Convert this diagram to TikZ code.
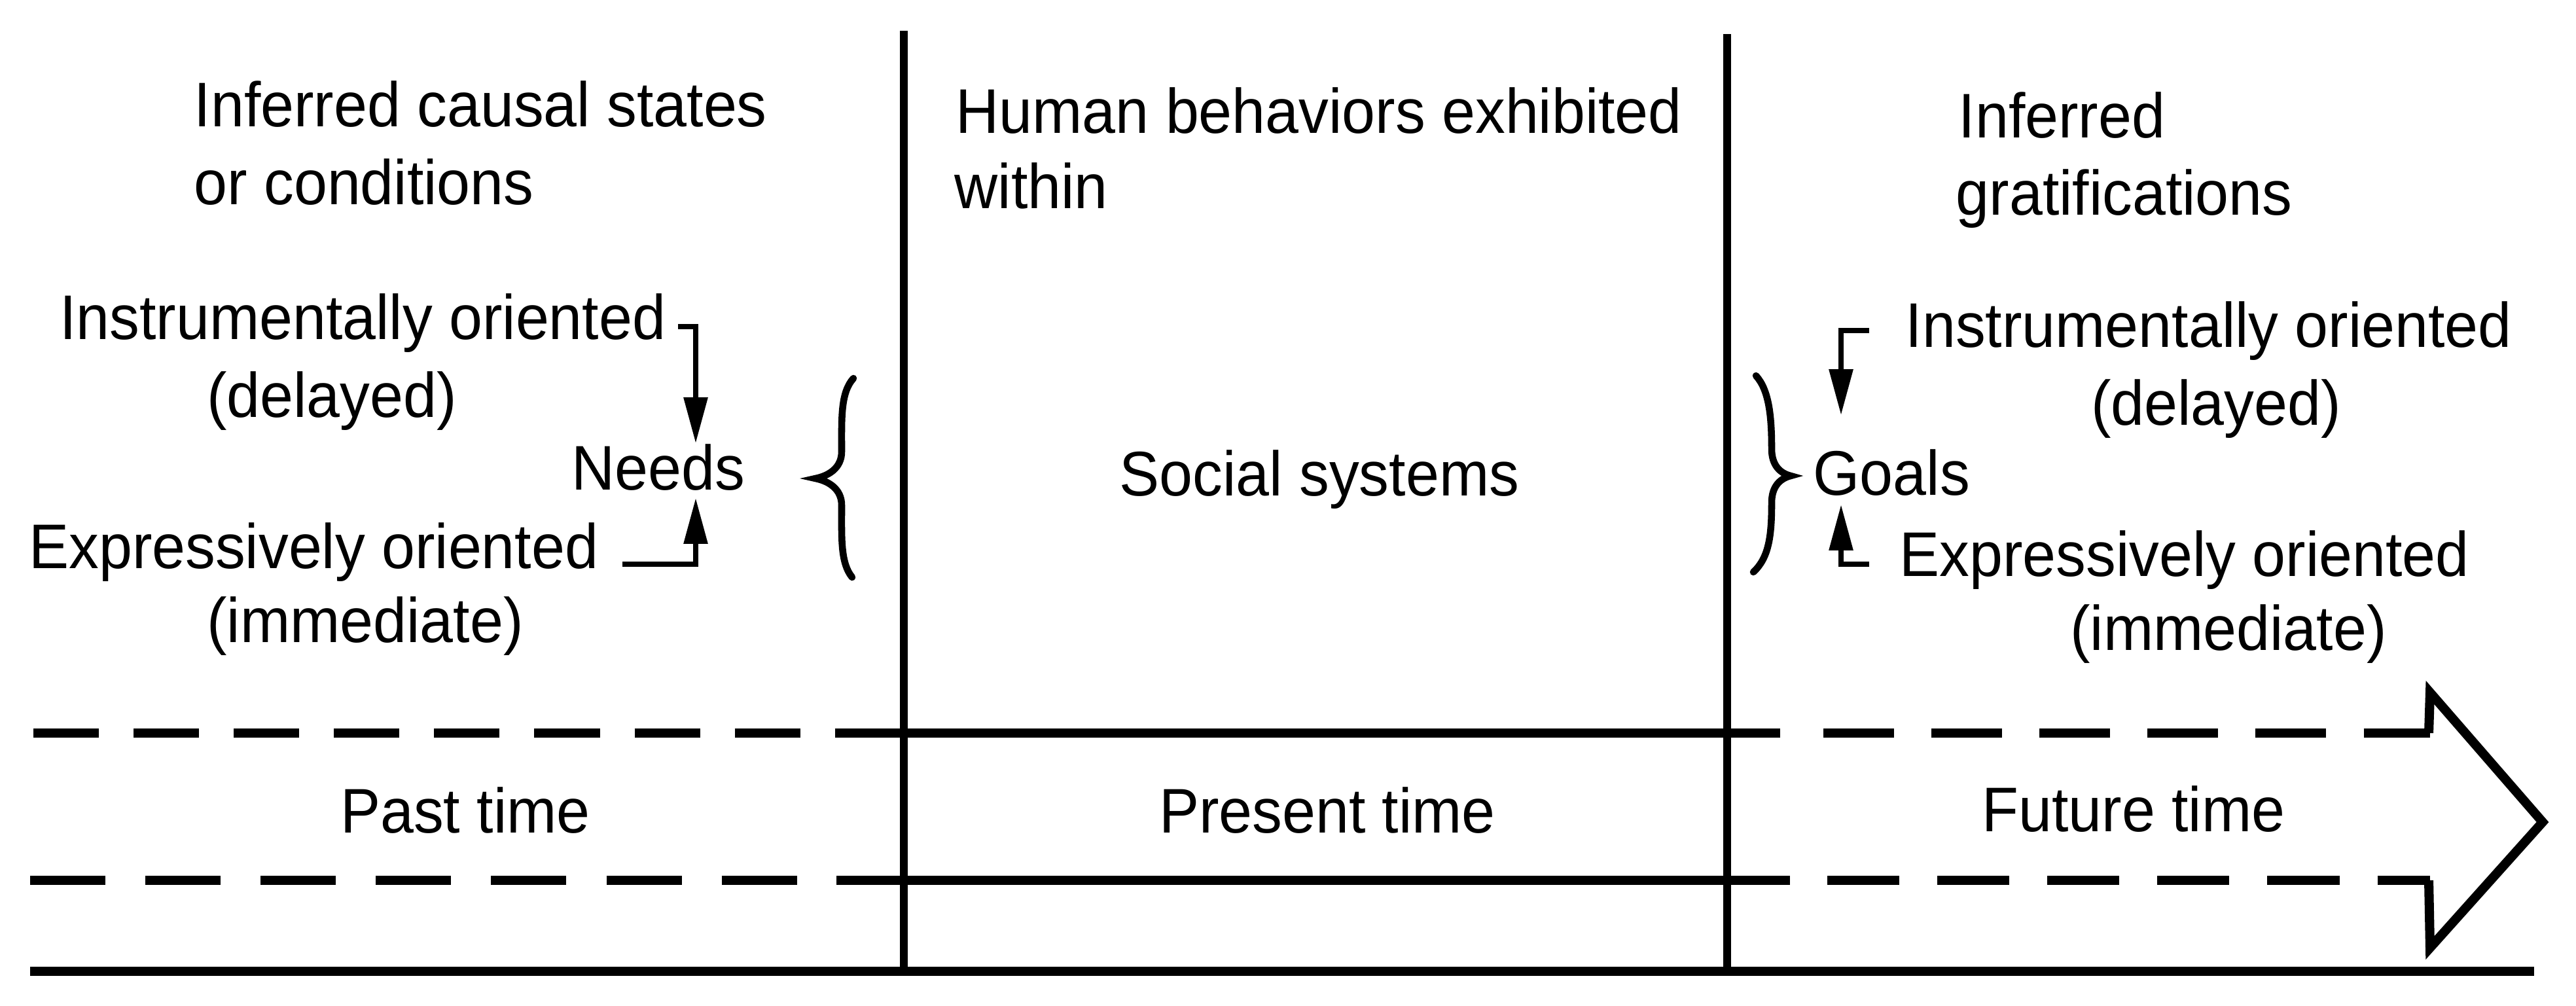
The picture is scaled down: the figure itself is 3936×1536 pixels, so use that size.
\documentclass[tikz,border=0pt]{standalone}
\usepackage{fontspec}
\setmainfont{Liberation Sans}[FakeStretch=0.95]
\usetikzlibrary{arrows.meta,calc}
\begin{document}
\begin{tikzpicture}[x=0.01cm,y=-0.01cm,
  lbl/.style={inner sep=0pt, font=\fontsize{27.4}{33}\selectfont},
  vline/.style={line width=3.2pt},
  hline/.style={line width=4pt},
  conn/.style={line width=2.4pt, -{Triangle[length=20pt,width=10pt]}},
  bracestyle/.style={line width=3pt, line cap=round}
]
\useasboundingbox (0,0) rectangle (3936,1536);

% column headings
\node[lbl, anchor=base west] (t1a) at (296,193) {Inferred causal states};
\node[lbl, anchor=base west] (t1b) at (296,312) {or conditions};
\node[lbl, anchor=base west] (t2a) at (1460,203) {Human behaviors exhibited};
\node[lbl, anchor=base west] (t2b) at (1458,318) {within};
\node[lbl, anchor=base west] (t3a) at (2992,210) {Inferred};
\node[lbl, anchor=base west] (t3b) at (2988,328) {gratifications};

% left column
\node[lbl, anchor=base east] (iol) at (1018,518) {Instrumentally oriented};
\node[lbl, anchor=base] (dell) at (507,637) {(delayed)};
\node[lbl, anchor=base] (needs) at (1006,748) {Needs};
\node[lbl, anchor=base east] (eol) at (915,868) {Expressively oriented};
\node[lbl, anchor=base] (imml) at (558,981) {(immediate)};

% middle
\node[lbl, anchor=base] (soc) at (2016,757) {Social systems};

% right column
\node[lbl, anchor=base west] (goals) at (2770,756) {Goals};
\node[lbl, anchor=base west] (ior) at (2911,530) {Instrumentally oriented};
\node[lbl, anchor=base] (delr) at (3386,649) {(delayed)};
\node[lbl, anchor=base west] (eor) at (2902,880) {Expressively oriented};
\node[lbl, anchor=base] (immr) at (3405,993) {(immediate)};

% time labels
\node[lbl, anchor=base] (past) at (711,1272) {Past time};
\node[lbl, anchor=base] (pres) at (2028,1272) {Present time};
\node[lbl, anchor=base] (fut) at (3260,1270) {Future time};

% connectors
\coordinate (lcol) at (1063,0);
\coordinate (rcol) at (2813,0);
\draw[conn] ($(iol.base east)+(18,-19)$) -| (needs.north -| lcol);
\draw[conn] ($(eol.base east)+(36,-6)$) -| ($(needs.south -| lcol)+(0,11)$);
\draw[conn] ($(ior.base west)+(-55,-25)$) -| ($(goals.north -| rcol)+(0,-51)$);
\draw[conn] ($(eor.base west)+(-46,-18)$) -| ($(goals.south -| rcol)+(0,13)$);

% braces
\draw[bracestyle] (1304,578) .. controls (1284,600) and (1286,640) .. (1286,690)
  .. controls (1286,715) and (1266,727) .. (1246,731)
  .. controls (1266,735) and (1286,747) .. (1286,772)
  .. controls (1286,822) and (1284,860) .. (1302,882);
\draw[bracestyle] (2683,574) .. controls (2703,596) and (2707,636) .. (2707,686)
  .. controls (2707,711) and (2720,723) .. (2736,727)
  .. controls (2720,731) and (2707,743) .. (2707,768)
  .. controls (2707,818) and (2703,852) .. (2679,874);

% vertical dividers
\draw[vline] (1381,47) -- (1381,1484);
\draw[vline] (2639,52) -- (2639,1484);

% time band
\draw[hline, dash pattern=on 1cm off 0.53cm] (51,1120) -- (1277,1120);
\draw[hline] (1277,1120) -- (2720,1120);
\draw[hline, dash pattern=on 1.08cm off 0.57cm] (2786,1120) -- (3713,1120);
\draw[hline, dash pattern=on 1.15cm off 0.61cm] (46,1345) -- (1278,1345);
\draw[hline] (1278,1345) -- (2735,1345);
\draw[hline, dash pattern=on 1.1cm off 0.58cm] (2792,1345) -- (3713,1345);
\draw[hline, line join=miter] (3711,1120) -- (3713,1058) -- (3885,1256) -- (3713,1448) -- (3711,1345);
\draw[hline] (46,1484) -- (3872,1484);
\end{tikzpicture}
\end{document}
